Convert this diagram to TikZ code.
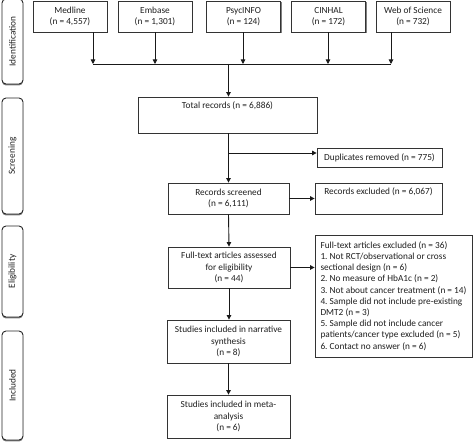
\documentclass[tikz,border=0pt]{standalone}
\usepackage{fontspec}
\setmainfont{Carlito}
\usetikzlibrary{arrows.meta,shadows}
\frenchspacing
\begin{document}
\begin{tikzpicture}[x=1pt,y=-1pt,
  font=\fontsize{9.3}{11.2}\selectfont,
  every node/.style={text=black!88},
  box/.style={draw=black!80, line width=0.8pt, fill=white, inner sep=2pt, align=center,
    drop shadow={shadow xshift=1.2pt, shadow yshift=-1.2pt, fill=black!50, opacity=1}},
  side/.style={draw=black!85, line width=0.9pt, fill=white, rounded corners=4pt, rotate=90,
    minimum height=21pt, inner sep=1pt,
    drop shadow={shadow xshift=0pt, shadow yshift=-1.5pt, fill=black!50, opacity=1}},
  conn/.style={draw=black!90, line width=0.9pt},
  arr/.style={conn, -{Triangle[length=4.5pt,width=4.5pt]}}
]
\useasboundingbox (0,0) rectangle (474,443);

% side labels
\node[side, minimum width=85pt] (sident) at (12.5,41.5) {Identification};
\node[side, minimum width=116pt] (sscreen) at (12.5,156) {Screening};
\node[side, minimum width=91pt] (selig) at (12.5,271.5) {Eligibility};
\node[side, minimum width=109pt] (sincl) at (12.5,385.5) {Included};

% sources
\node[box, minimum width=74pt, minimum height=31pt] (medline) at (70,16.5) {Medline\\(n = 4,557)};
\node[box, minimum width=74pt, minimum height=31pt] (embase) at (155,16.5) {Embase\\(n = 1,301)};
\node[box, minimum width=74pt, minimum height=31pt] (psyc) at (243.5,16.5) {PsycINFO\\(n = 124)};
\node[box, minimum width=74pt, minimum height=31pt] (cinhal) at (328.5,16.5) {CINHAL\\(n = 172)};
\node[box, minimum width=74pt, minimum height=31pt] (wos) at (413,16.5) {Web of Science\\(n = 732)};

% main flow
\node[box, minimum width=179pt, minimum height=36pt,
  label={[anchor=north, yshift=-2pt]north:Total records (n = 6,886)}] (total) at (227.5,115) {};
\node[box, minimum width=125pt, minimum height=19pt] (dup) at (379.5,157.5) {Duplicates removed (n = 775)};
\node[box, minimum width=121pt, minimum height=31pt] (screened) at (228.5,198.5) {Records screened\\(n = 6,111)};
\node[box, minimum width=127pt, minimum height=31pt,
  label={[anchor=north, yshift=-2pt]north:Records excluded (n = 6,067)}] (excl1) at (378.5,198.5) {};
\node[box, minimum width=122pt, minimum height=41pt] (fulltext) at (229,267.5) {Full-text articles assessed\\for eligibility\\(n = 44)};
\node[box, minimum width=157pt, minimum height=122pt, align=left] (excl2) at (393.5,296) {Full-text articles excluded (n = 36)\\
1. Not RCT/observational or cross\\sectional design (n = 6)\\
2. No measure of HbA1c (n = 2)\\
3. Not about cancer treatment (n = 14)\\
4. Sample did not include pre-existing\\DMT2 (n = 3)\\
5. Sample did not include cancer\\patients/cancer type excluded (n = 5)\\
6. Contact no answer (n = 6)};
\node[box, minimum width=123pt, minimum height=43pt] (narr) at (228.5,341.5) {Studies included in narrative\\synthesis\\(n = 8)};
\node[box, minimum width=123pt, minimum height=43pt] (meta) at (228.5,416.5) {Studies included in meta-\\analysis\\(n = 6)};

% connectors
\coordinate (j1) at (93,64);
\coordinate (j2) at (155,64);
\coordinate (j3) at (243,64);
\coordinate (j4) at (328,64);
\coordinate (j5) at (391,64);
\coordinate (jm) at (228.5,64);
\coordinate (b1) at (228.5,153);
\draw[conn] (j1) -- (j5);
\draw[arr] (medline.south -| j1) -- (j1);
\draw[arr] (embase.south -| j2) -- (j2);
\draw[arr] (psyc.south -| j3) -- (j3);
\draw[arr] (cinhal.south -| j4) -- (j4);
\draw[arr] (wos.south -| j5) -- (j5);
\draw[arr] (jm) -- (total.north -| jm);
\draw[arr] (total.south -| jm) -- (screened.north);
\draw[arr] (b1) -- (b1 -| dup.west);
\draw[arr] (screened.east) -- (screened.east -| excl1.west);
\draw[arr] (screened.south) -- (fulltext.south |- fulltext.north);
\draw[arr] (fulltext.east) -- (fulltext.east -| excl2.west);
\draw[arr] (fulltext.south) -- (fulltext.south |- narr.north);
\draw[arr] (narr.south) -- (meta.north);
\end{tikzpicture}
\end{document}
